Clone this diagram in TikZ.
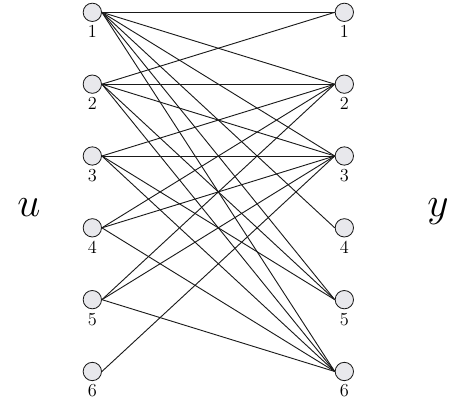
\documentclass[tikz,border=0pt]{standalone}
\usepackage{xcolor}
\usetikzlibrary{positioning}
\definecolor{Black}{HTML}{1A1A1A}
\definecolor{NodeGray}{HTML}{E8E8EC}

\begin{document}
\begin{tikzpicture}[node distance=31.6pt, auto]
  \tikzstyle{vtx} = [circle, draw=Black, fill=NodeGray, minimum size=11pt, inner sep=0pt, line width=0.5pt]
  \tikzstyle{idx} = [inner sep=0pt, font=\fontsize{11}{13}\selectfont]
  \tikzstyle{var} = [inner sep=0pt, font=\Huge, anchor=base]
  \tikzstyle{wire} = [draw=Black, line width=0.55pt]

  \useasboundingbox (-55.4pt,7.4pt) rectangle (229pt,-240.4pt);

  % inputs
  \node [vtx] (l1) at (0,0) {};
  \node [vtx, below=of l1] (l2) {};
  \node [vtx, below=of l2] (l3) {};
  \node [vtx, below=of l3] (l4) {};
  \node [vtx, below=of l4] (l5) {};
  \node [vtx, below=of l5] (l6) {};

  % outputs
  \node [vtx, right=139.7pt of l1] (r1) {};
  \node [vtx, below=of r1] (r2) {};
  \node [vtx, below=of r2] (r3) {};
  \node [vtx, below=of r3] (r4) {};
  \node [vtx, below=of r4] (r5) {};
  \node [vtx, below=of r5] (r6) {};

  % indices
  \node [idx, below=2pt of l1] (l1n) {1};
  \node [idx, below=2pt of l2] (l2n) {2};
  \node [idx, below=2pt of l3] (l3n) {3};
  \node [idx, below=2pt of l4] (l4n) {4};
  \node [idx, below=2pt of l5] (l5n) {5};
  \node [idx, below=2pt of l6] (l6n) {6};
  \node [idx, below=2pt of r1] (r1n) {1};
  \node [idx, below=2pt of r2] (r2n) {2};
  \node [idx, below=2pt of r3] (r3n) {3};
  \node [idx, below=2pt of r4] (r4n) {4};
  \node [idx, below=2pt of r5] (r5n) {5};
  \node [idx, below=2pt of r6] (r6n) {6};

  \node [var] (u) at (-38pt,-122.8pt) {$u$};
  \node [var] (y) at (207.4pt,-122.8pt) {$y$};

  % links
  \draw [wire] (l1.east) -- (r1.west);
  \draw [wire] (l1.east) -- (r2.west);
  \draw [wire] (l1.east) -- (r3.west);
  \draw [wire] (l1.east) -- (r4.west);
  \draw [wire] (l1.east) -- (r5.west);
  \draw [wire] (l1.east) -- (r6.west);
  \draw [wire] (l2.east) -- (r1.west);
  \draw [wire] (l2.east) -- (r2.west);
  \draw [wire] (l2.east) -- (r3.west);
  \draw [wire] (l2.east) -- (r5.west);
  \draw [wire] (l2.east) -- (r6.west);
  \draw [wire] (l3.east) -- (r2.west);
  \draw [wire] (l3.east) -- (r3.west);
  \draw [wire] (l3.east) -- (r5.west);
  \draw [wire] (l3.east) -- (r6.west);
  \draw [wire] (l4.east) -- (r2.west);
  \draw [wire] (l4.east) -- (r3.west);
  \draw [wire] (l4.east) -- (r6.west);
  \draw [wire] (l5.east) -- (r2.west);
  \draw [wire] (l5.east) -- (r3.west);
  \draw [wire] (l5.east) -- (r6.west);
  \draw [wire] (l6.east) -- (r3.west);
\end{tikzpicture}
\end{document}
